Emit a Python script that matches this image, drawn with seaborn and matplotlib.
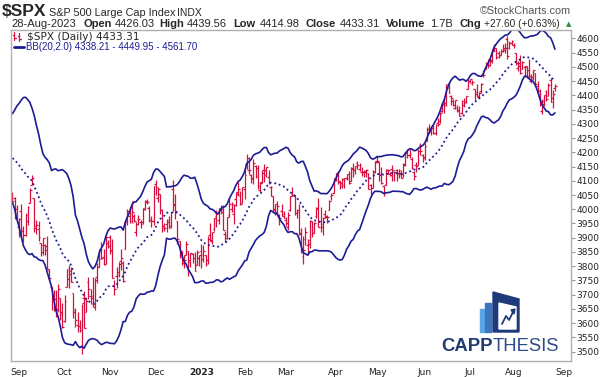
import numpy as np
import pandas as pd
import matplotlib
matplotlib.use("Agg")
import matplotlib.pyplot as plt
import matplotlib.patches as mpatches
from matplotlib.lines import Line2D
import seaborn as sns

# 20 closes before the first bar (Aug 1 - Aug 26 2022), only used to start the bands
close_pre = [4118.63, 4091.19, 4155.17, 4151.94, 4145.19, 4140.06, 4122.47, 4210.24, 4207.27, 4280.15,
             4297.14, 4305.20, 4274.04, 4283.74, 4228.48, 4137.99, 4128.73, 4140.77, 4199.12, 4057.66]

# daily bars, Aug 29 2022 - Aug 28 2023
open_ = [4034, 4041, 4000,
         3937, 3995, 3930, 3909, 3960, 4022, 4084, 4040, 3940, 3932, 3880, 3849, 3875, 3871, 3782, 3727, 3682, 3686, 3651, 3687, 3633,
         3609, 3726, 3754, 3772, 3706, 3647, 3595, 3590, 3520, 3690, 3638, 3746, 3695, 3689, 3657, 3762, 3799, 3825, 3834, 3808, 3881,
         3902, 3853, 3734, 3767, 3780, 3818, 3810, 3859, 3964, 3977, 4007, 3977, 3919, 3967, 3956, 3956, 4001, 4024, 4006, 3964, 3958,
         4087, 4041, 4052, 3996, 3934, 3947, 3955, 3940, 4070, 4015, 3958, 3890, 3853, 3811, 3840, 3853, 3815, 3844, 3829, 3805, 3830,
         3853, 3840, 3840, 3823, 3910, 3889, 3932, 3977, 3961, 3999, 4002, 3912, 3909, 3979, 4001, 3982, 4036, 4053, 4049, 4021,
         4070, 4158, 4137, 4119, 4105, 4153, 4144, 4068, 4096, 4127, 4119, 4114, 4077, 4047, 4002, 4019, 3974, 3993, 3977,
         3964, 3939, 3998, 4055, 4048, 3987, 3999, 3912, 3835, 3894, 3876, 3878, 3958, 3917, 3975, 4002, 3959, 3939, 3982, 3974, 3999, 4047, 4057,
         4102, 4128, 4094, 4082, 4085, 4111, 4122, 4100, 4140, 4137, 4164, 4140, 4131, 4132, 4132, 4127, 4085, 4075, 4130,
         4166, 4165, 4122, 4082, 4084, 4136, 4125, 4143, 4132, 4139, 4126, 4127, 4123, 4157, 4204, 4191, 4176, 4132, 4155, 4157, 4227, 4191,
         4183, 4241, 4282, 4271, 4285, 4268, 4304, 4308, 4345, 4366, 4366, 4440, 4396, 4380, 4355, 4354, 4345, 4337, 4367, 4375, 4422,
         4450, 4442, 4422, 4405, 4394, 4416, 4467, 4491, 4514, 4508, 4521, 4563, 4554, 4550, 4543, 4555, 4558, 4598, 4565, 4585,
         4578, 4550, 4494, 4513, 4492, 4498, 4501, 4487, 4451, 4458, 4479, 4433, 4416, 4345, 4381, 4416, 4397, 4455, 4389, 4426]

high = [4062, 4044, 4015,
        3970, 4019, 3942, 3987, 4011, 4076, 4119, 4040, 3961, 3959, 3880, 3900, 3877, 3907, 3790, 3727, 3716, 3717, 3736, 3687, 3671,
        3698, 3791, 3806, 3798, 3706, 3653, 3640, 3610, 3666, 3713, 3689, 3762, 3719, 3763, 3757, 3810, 3862, 3886, 3859, 3905, 3893,
        3911, 3894, 3750, 3796, 3814, 3859, 3818, 3959, 4001, 4009, 4028, 3984, 3955, 3979, 3962, 4004, 4034, 4035, 4013, 3976, 4080,
        4101, 4077, 4052, 4001, 3951, 3966, 3977, 3991, 4101, 4053, 3959, 3890, 3854, 3839, 3889, 3853, 3845, 3846, 3849, 3858, 3839,
        3879, 3873, 3840, 3907, 3951, 3920, 3970, 3997, 4003, 4016, 4015, 3923, 3972, 4039, 4024, 4019, 4061, 4095, 4063, 4077,
        4148, 4195, 4183, 4125, 4176, 4157, 4156, 4095, 4138, 4159, 4149, 4136, 4081, 4048, 4017, 4029, 3983, 4019, 3994,
        3972, 3990, 4048, 4078, 4050, 4000, 4017, 3934, 3906, 3938, 3894, 3964, 3958, 3956, 4009, 4039, 4007, 3972, 3999, 3980, 4031, 4058, 4110,
        4127, 4133, 4100, 4108, 4110, 4124, 4135, 4150, 4163, 4152, 4170, 4163, 4148, 4138, 4143, 4127, 4089, 4138, 4170,
        4187, 4165, 4148, 4083, 4143, 4143, 4131, 4155, 4133, 4143, 4141, 4136, 4164, 4202, 4213, 4210, 4185, 4133, 4166, 4213, 4231, 4195,
        4233, 4290, 4300, 4289, 4299, 4298, 4322, 4340, 4375, 4391, 4439, 4448, 4400, 4387, 4382, 4366, 4363, 4384, 4390, 4399, 4458,
        4457, 4454, 4422, 4440, 4412, 4443, 4488, 4517, 4528, 4532, 4562, 4579, 4565, 4556, 4563, 4580, 4583, 4607, 4590, 4595,
        4584, 4550, 4519, 4540, 4520, 4503, 4502, 4527, 4476, 4490, 4479, 4450, 4421, 4386, 4402, 4419, 4443, 4459, 4418, 4440]

low = [4017, 3965, 3954,
       3903, 3907, 3886, 3907, 3944, 4022, 4084, 3921, 3912, 3888, 3837, 3838, 3838, 3789, 3750, 3648, 3644, 3623, 3640, 3610, 3584,
       3604, 3726, 3723, 3744, 3620, 3588, 3568, 3570, 3492, 3584, 3638, 3686, 3667, 3657, 3647, 3742, 3799, 3824, 3804, 3808, 3863,
       3843, 3758, 3699, 3722, 3762, 3786, 3745, 3859, 3944, 3950, 3953, 3954, 3906, 3943, 3933, 3947, 3998, 4020, 3956, 3937, 3943,
       4050, 4027, 3985, 3919, 3922, 3921, 3933, 3935, 3994, 3965, 3879, 3828, 3803, 3795, 3839, 3765, 3797, 3813, 3783, 3805, 3801,
       3794, 3815, 3802, 3809, 3890, 3877, 3924, 3937, 3948, 3984, 3926, 3885, 3897, 3972, 3989, 3949, 4013, 4048, 4016, 4021,
       4037, 4141, 4124, 4093, 4088, 4111, 4070, 4060, 4092, 4095, 4113, 4089, 4047, 3995, 3981, 3978, 3943, 3977, 3968,
       3940, 3928, 3995, 4045, 3980, 3969, 3908, 3846, 3809, 3874, 3839, 3864, 3901, 3916, 3971, 3936, 3920, 3909, 3970, 3953, 3999, 4033, 4057,
       4098, 4087, 4072, 4076, 4073, 4102, 4087, 4099, 4114, 4123, 4140, 4135, 4115, 4114, 4114, 4071, 4050, 4075, 4127,
       4164, 4098, 4088, 4048, 4084, 4124, 4116, 4098, 4098, 4099, 4111, 4109, 4113, 4153, 4180, 4180, 4142, 4103, 4129, 4155, 4192, 4166,
       4172, 4241, 4267, 4261, 4265, 4262, 4292, 4304, 4342, 4337, 4363, 4407, 4367, 4361, 4352, 4341, 4328, 4335, 4360, 4372, 4422,
       4443, 4436, 4385, 4398, 4389, 4409, 4463, 4491, 4494, 4504, 4514, 4557, 4528, 4532, 4541, 4553, 4547, 4528, 4561, 4578,
       4567, 4505, 4486, 4474, 4492, 4464, 4461, 4457, 4443, 4453, 4432, 4404, 4364, 4335, 4364, 4381, 4397, 4376, 4356, 4415]

close = [4030.61, 3986.16, 3955.00,
         3966.85, 3924.26, 3908.19, 3979.87, 4006.18, 4067.36, 4110.41, 3932.69, 3946.01, 3901.35, 3873.33, 3899.89, 3855.93, 3789.93, 3757.99, 3693.23, 3655.04, 3647.29, 3719.04, 3640.47, 3585.62,
         3678.43, 3790.93, 3783.28, 3744.52, 3639.66, 3612.39, 3588.84, 3577.03, 3669.91, 3583.07, 3677.95, 3719.98, 3695.16, 3665.78, 3752.75, 3797.34, 3859.11, 3830.60, 3807.30, 3901.06, 3871.98,
         3856.10, 3759.69, 3719.89, 3770.55, 3806.80, 3828.11, 3748.57, 3956.37, 3992.93, 3957.25, 3991.73, 3958.79, 3946.56, 3965.34, 3949.94, 4003.58, 4027.26, 4026.12, 3963.94, 3957.63, 4080.11,
         4076.57, 4071.70, 3998.84, 3941.26, 3933.92, 3963.51, 3934.38, 3990.56, 4019.65, 3995.32, 3895.75, 3852.36, 3817.66, 3821.62, 3878.44, 3822.39, 3844.82, 3829.25, 3783.22, 3849.28, 3839.50,
         3824.14, 3852.97, 3808.10, 3895.08, 3892.09, 3919.25, 3969.61, 3983.17, 3999.09, 3990.97, 3928.86, 3898.85, 3972.61, 4019.81, 4016.95, 4016.22, 4060.43, 4070.56, 4017.77, 4076.60,
         4119.21, 4179.76, 4136.48, 4111.08, 4164.00, 4117.86, 4081.50, 4090.46, 4137.29, 4136.13, 4147.60, 4090.41, 4079.09, 3997.34, 3991.05, 4012.32, 3970.04, 3982.24, 3970.15,
         3951.39, 3981.35, 4045.64, 4048.42, 3986.37, 3992.01, 3918.32, 3861.59, 3855.76, 3919.29, 3891.93, 3960.28, 3916.64, 3951.57, 4002.87, 3936.97, 3948.72, 3970.99, 3977.53, 3971.27, 4027.81, 4050.83, 4109.31,
         4124.51, 4100.60, 4090.38, 4105.02, 4109.11, 4108.94, 4091.95, 4146.22, 4137.64, 4151.32, 4154.87, 4154.52, 4129.79, 4133.52, 4137.04, 4071.63, 4055.99, 4135.35, 4169.48,
         4167.87, 4119.58, 4090.75, 4061.22, 4136.25, 4138.12, 4119.17, 4137.64, 4130.62, 4124.08, 4136.28, 4109.90, 4158.77, 4198.05, 4191.98, 4192.63, 4145.58, 4115.24, 4151.28, 4205.45, 4205.52, 4179.83,
         4221.02, 4282.37, 4273.79, 4283.85, 4267.52, 4293.93, 4298.86, 4338.93, 4369.01, 4372.59, 4425.84, 4409.59, 4388.71, 4365.69, 4381.89, 4348.33, 4328.82, 4378.41, 4376.86, 4396.44, 4450.38,
         4455.59, 4446.82, 4411.59, 4398.95, 4409.53, 4439.26, 4472.16, 4510.04, 4505.42, 4522.79, 4554.98, 4565.72, 4534.87, 4536.34, 4554.64, 4567.46, 4566.75, 4537.41, 4582.23, 4588.96,
         4576.73, 4513.39, 4501.89, 4478.03, 4518.44, 4499.38, 4467.71, 4468.83, 4464.05, 4489.72, 4437.86, 4404.33, 4370.36, 4369.71, 4399.77, 4387.55, 4436.01, 4376.31, 4405.71, 4433.31]

holidays = ["2022-09-05", "2022-11-24", "2022-12-26", "2023-01-02", "2023-01-16",
            "2023-02-20", "2023-04-07", "2023-05-29", "2023-06-19", "2023-07-04"]
dates = pd.bdate_range("2022-08-29", "2023-08-28", freq="C", holidays=holidays)

n = len(close)
if not (len(open_) == len(high) == len(low) == n == len(dates)):
    raise ValueError(f"lengths {len(open_)} {len(high)} {len(low)} {n} {len(dates)}")

# bollinger bands 20,2 on the closes
allc = pd.Series(close_pre + close)
mid = allc.rolling(20).mean()
sd = allc.rolling(20).std(ddof=0)
bb_mid = mid.iloc[20:].to_numpy()
bb_up = (mid + 2 * sd).iloc[20:].to_numpy()
bb_lo = (mid - 2 * sd).iloc[20:].to_numpy()
x = np.arange(n)

W, H = 603, 377
red = "#d6103f"
navy = "#1c1c96"
gray = "#b0b0b0"

sns.set_style("white")
plt.rcParams["font.family"] = ["Liberation Sans", "DejaVu Sans"]

fig = plt.figure(figsize=(W / 100, H / 100), dpi=100)
ax = fig.add_axes([11 / W, (H - 361) / H, 560 / W, 331 / H])
ax.set_facecolor("none")

def P(px, py):
    return (px / W, 1 - py / H)

def ftext(px, py, s, **kw):
    fig.text(px / W, 1 - py / H, s, **kw)

# logo watermark
tf = fig.transFigure
fig.add_artist(mpatches.Rectangle(P(480, 332), 4 / W, 23 / H, color="#5aa6e4", transform=tf, zorder=0.5))
fig.add_artist(mpatches.Rectangle(P(485, 332), 6 / W, 29 / H, color="#3a76c2", transform=tf, zorder=0.5))
fig.add_artist(mpatches.Polygon([P(493, 292), P(519, 299), P(519, 332), P(493, 332)],
                                closed=True, color="#1e3a7a", transform=tf, zorder=0.5))
fig.add_artist(mpatches.Polygon([P(499, 303), P(516, 307), P(516, 329), P(499, 329)],
                                closed=True, color="white", transform=tf, zorder=0.6))
arr = [P(502, 324), P(506, 316), P(509, 320), P(513, 312)]
fig.add_artist(Line2D([a[0] for a in arr], [a[1] for a in arr], color="#1e3a7a", lw=1.3, transform=tf, zorder=0.7))
fig.add_artist(mpatches.Polygon([P(511, 310), P(515, 309), P(514, 314)], closed=True,
                                color="#1e3a7a", transform=tf, zorder=0.7))
ftext(441, 351, "CAPP", fontsize=13.3, fontweight="bold", color="#1f3b70", va="baseline")
ftext(493, 351, "THESIS", fontsize=13.3, color="#2c4b88", va="baseline")

# ohlc bars
ax.vlines(x, low, high, color=red, lw=0.9)
ax.hlines(open_, x - 0.8, x, color=red, lw=0.9)
ax.hlines(close, x, x + 0.8, color=red, lw=0.9)

sns.lineplot(x=x, y=bb_up, ax=ax, color=navy, linewidth=1.2)
sns.lineplot(x=x, y=bb_lo, ax=ax, color=navy, linewidth=1.2)
sns.lineplot(x=x, y=bb_mid, ax=ax, color=navy, linewidth=1.3, linestyle=(0, (1, 1.6)))

ax.set_xlim(-0.69, 257.4)
ax.set_ylim(3467.4, 4629.1)

ax.yaxis.tick_right()
ax.set_yticks(np.arange(3500, 4601, 50))
ax.set_yticklabels([str(v) for v in range(3500, 4601, 50)], family="DejaVu Sans")

# month ticks at the first trading day of each month
ticks, labels = [], []
for i in range(1, n):
    if dates[i].month != dates[i - 1].month:
        ticks.append(i)
        labels.append("2023" if dates[i].month == 1 else dates[i].strftime("%b"))
ticks.append(n + 3)
labels.append("Sep")
ax.set_xticks(ticks)
ax.set_xticklabels(labels, family="DejaVu Sans")
for t in ax.get_xticklabels():
    if t.get_text() == "2023":
        t.set_fontweight("bold")
        t.set_fontsize(7.5)

ax.tick_params(axis="y", length=3, width=0.8, color="#999999", labelsize=6.5, pad=1, labelcolor="#222222")
ax.tick_params(axis="x", length=3, width=0.8, color="#999999", labelsize=6.5, pad=2, labelcolor="#222222")
ax.set_xlabel("")
ax.set_ylabel("")
for s in ax.spines.values():
    s.set_color(gray)
    s.set_linewidth(1)

# header
ftext(2, 12, "$SPX", fontsize=12.5, fontweight="bold", va="center")
ftext(49, 12.5, "S&P 500 Large Cap Index", fontsize=7.8, va="center")
ftext(177, 12.5, "INDX", fontsize=7.5, va="center")
ftext(571, 11, "\u00a9StockCharts.com", fontsize=7.8, color="#555555", va="center", ha="right")

line2 = [(11, "28-Aug-2023", "normal", 8),
         (83, "Open", "bold", 8), (115, "4426.03", "normal", 8),
         (159, "High", "bold", 8), (187, "4439.56", "normal", 8),
         (233, "Low", "bold", 8), (260, "4414.98", "normal", 8),
         (305, "Close", "bold", 8), (340, "4433.31", "normal", 8),
         (386, "Volume", "bold", 8), (430, "1.7B", "normal", 8),
         (459, "Chg", "bold", 8), (484, "+27.60 (+0.63%)", "normal", 7.3)]
for px, s, w, fs in line2:
    ftext(px, 24, s, fontsize=fs, fontweight=w, va="center")
ftext(566, 24, "\u25b2", fontsize=5, color="#2e8b3a", va="center", family="DejaVu Sans")

# legend inside the chart
for dx, y0, y1 in [(14, 32, 40), (19, 33, 41)]:
    fig.add_artist(Line2D([dx / W, dx / W], [1 - y0 / H, 1 - y1 / H], color=red, lw=0.9, transform=tf))
    fig.add_artist(Line2D([(dx - 1.5) / W, dx / W], [1 - (y0 + 3) / H] * 2, color=red, lw=0.9, transform=tf))
    fig.add_artist(Line2D([dx / W, (dx + 1.5) / W], [1 - (y1 - 2) / H] * 2, color=red, lw=0.9, transform=tf))
ftext(27, 36.5, "$SPX (Daily) 4433.31", fontsize=7.6, family="DejaVu Sans", va="center")
fig.add_artist(Line2D([14 / W, 24 / W], [1 - 46.5 / H] * 2, color=navy, lw=2, transform=tf))
ftext(26, 47, "BB(20,2.0) 4338.21 - 4449.95 - 4561.70", fontsize=7, color=navy, va="center")

fig.savefig("out.png", dpi=100)
